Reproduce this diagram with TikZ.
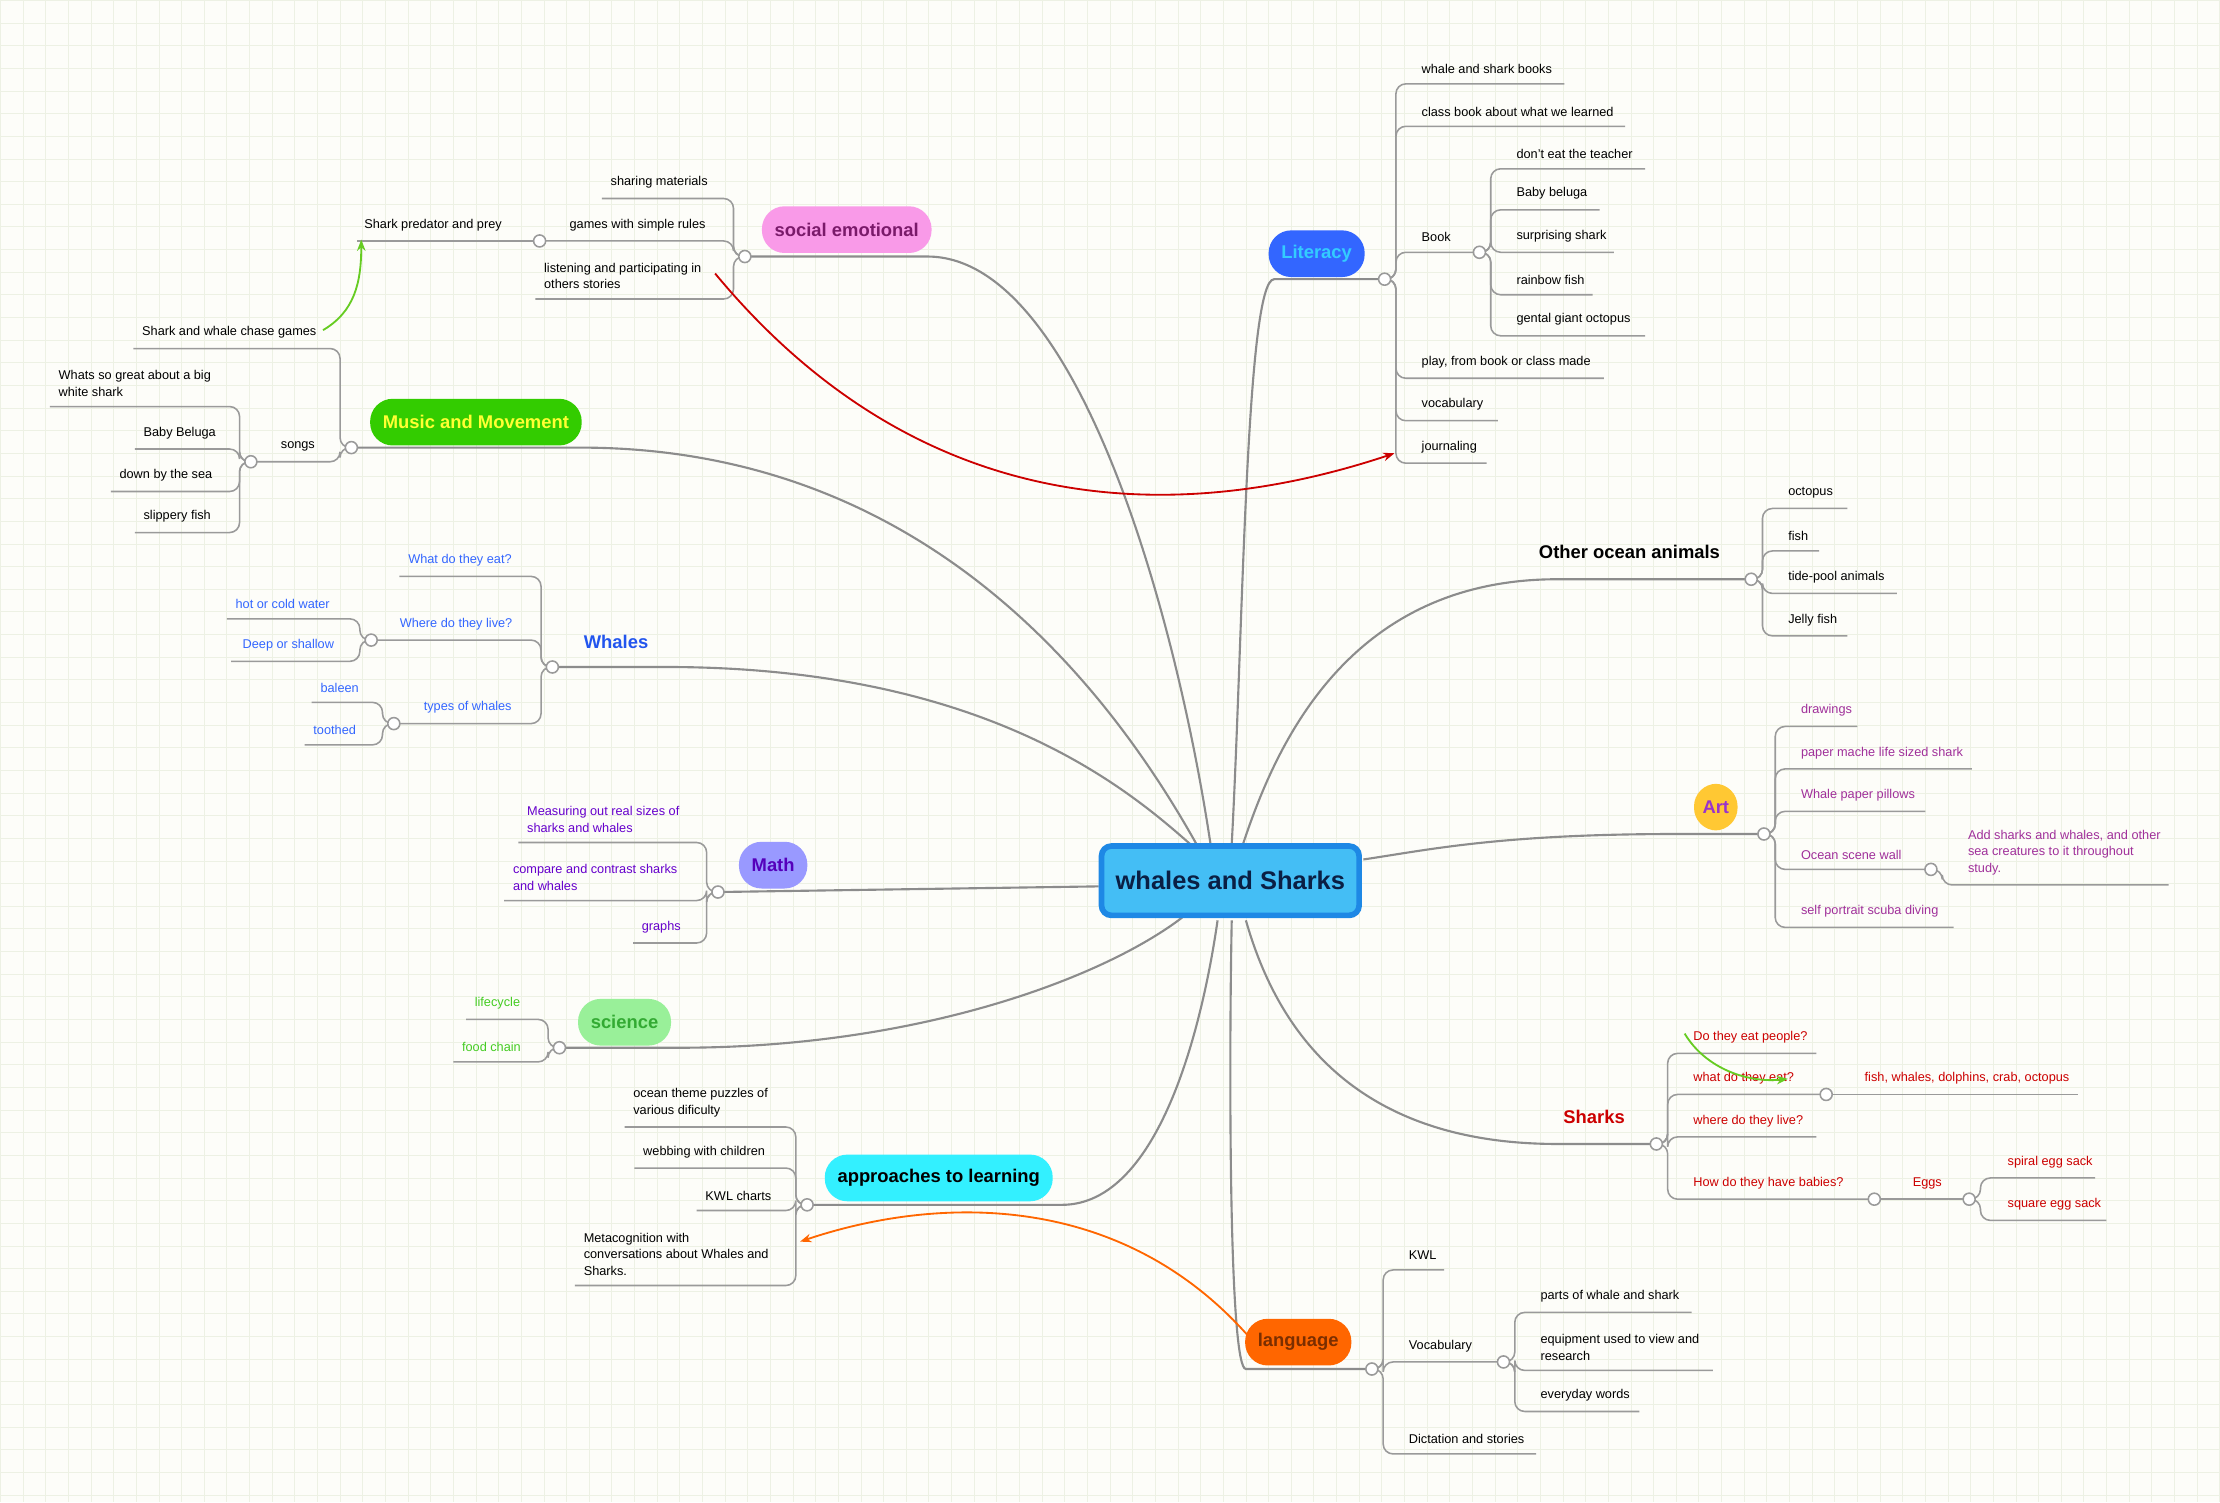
\documentclass[tikz,border=0pt]{standalone}
\usepackage{fontspec}
\setmainfont{Liberation Sans}
\usetikzlibrary{arrows.meta}
\definecolor{bg}{HTML}{FDFDF9}
\definecolor{gridc}{HTML}{EDF1E4}
\definecolor{mainl}{HTML}{8C8C8C}
\definecolor{subl}{HTML}{9A9A9A}
\definecolor{cblue}{HTML}{3366FF}
\definecolor{cpurp}{HTML}{6600CC}
\definecolor{cgreen}{HTML}{44CC22}
\definecolor{cart}{HTML}{A0309A}
\definecolor{cred}{HTML}{CC0000}
\newcommand\lfR[7]{%
  \draw[sub] (#2,#3) -- ({#2+8},#3) -- ({#2+8},#4) -- (#5,#4);
  \node[lt,anchor=south west] (#1) at (#6,#4) {#7};}
\newcommand\lfL[7]{%
  \draw[sub] (#2,#3) -- ({#2-8},#3) -- ({#2-8},#4) -- (#5,#4);
  \node[lt,anchor=south west] (#1) at (#6,#4) {#7};}
\newcommand\jn[3]{\node[junc] (#1) at (#2,#3) {};}
\begin{document}
\begin{tikzpicture}[x=1pt,y=-1pt,
  sub/.style={draw=subl,line width=1.1pt,rounded corners=7pt},
  mainc/.style={draw=mainl,line width=1.5pt},
  lt/.style={font=\fontsize{9}{11.5}\selectfont,inner sep=0pt,yshift=7pt,align=left},
  junc/.style={circle,draw=subl,fill=white,line width=1.1pt,inner sep=0pt,minimum size=8.5pt},
  pill/.style={rounded corners=16pt,minimum height=33pt,inner xsep=9pt,font=\fontsize{13}{15}\selectfont\bfseries},
  ttl/.style={font=\fontsize{13}{15}\selectfont\bfseries,inner sep=0pt},
  arr/.style={line width=1.3pt,-{Stealth[length=8pt,width=6pt]}}]
\fill[bg] (0,0) rectangle (1568,1061);
\foreach \i in {0,16,...,1568} \draw[gridc,line width=0.5pt] (\i,0) -- (\i,1061);
\foreach \i in {0,16,...,1061} \draw[gridc,line width=0.5pt] (0,\i) -- (1568,\i);
\useasboundingbox (0,0) rectangle (1568,1061);

% main connectors
\draw[mainc] (526,181) -- (655,181) .. controls (760,181) and (830,430) .. (855,596);
\draw[mainc] (978,197) -- (900,197) .. controls (880,197) and (878,450) .. (870,596);
\draw[mainc] (248,316) -- (410,316) .. controls (650,316) and (780,480) .. (845,596);
\draw[mainc] (390,471) -- (470,471) .. controls (700,471) and (800,560) .. (845,600);
\draw[mainc] (1237,409) -- (1100,409) .. controls (950,409) and (900,530) .. (878,596);
\draw[mainc] (1246,589) -- (1185,589) .. controls (1060,589) and (1010,600) .. (963,607);
\draw[mainc] (507,630) -- (776,626);
\draw[mainc] (395,740) -- (480,740) .. controls (650,740) and (780,690) .. (835,648);
\draw[mainc] (570,851) -- (750,851) .. controls (820,851) and (850,720) .. (860,650);
\draw[mainc] (969,967) -- (880,967) .. controls (868,967) and (868,750) .. (870,650);
\draw[mainc] (1170,808) -- (1100,808) .. controls (950,808) and (900,720) .. (880,650);

% social emotional
\lfL{se1}{526}{181}{140}{425}{431}{sharing materials}
\lfL{se2}{526}{181}{170}{381}{402}{games with simple rules}
\lfL{se3}{526}{181}{211}{378}{384}{listening and participating in\\others stories}
\draw[sub] (381,170) -- (252,170);
\node[lt,anchor=south west] (se21) at (257,170) {Shark predator and prey};
\jn{jse2}{381}{170}
\jn{jse}{526}{181}
\node[pill,fill={rgb,255:red,249;green,154;blue,232},text={rgb,255:red,122;green,26;blue,106}] (social) at (598,162) {social emotional};

% Music and Movement
\lfL{mm1}{248}{316}{246}{94}{100}{Shark and whale chase games}
\lfL{mm2}{248}{316}{326}{177}{198}{songs}
\lfL{so1}{177}{326}{287}{35}{41}{Whats so great about a big\\white shark}
\lfL{so2}{177}{326}{317}{95}{101}{Baby Beluga}
\lfL{so3}{177}{326}{347}{78}{84}{down by the sea}
\lfL{so4}{177}{326}{376}{95}{101}{slippery fish}
\jn{jso}{177}{326}
\jn{jmm}{248}{316}
\node[pill,fill={rgb,255:red,51;green,204;blue,0},text={rgb,255:red,255;green,255;blue,51}] (music) at (336,298) {Music and Movement};

% Whales
\begin{scope}[every node/.append style={text=cblue}]
\lfL{wh1}{390}{471}{407}{282}{288}{What do they eat?}
\lfL{wh2}{390}{471}{452}{262}{282}{Where do they live?}
\lfL{wh3}{390}{471}{511}{278}{299}{types of whales}
\lfL{wl1}{262}{452}{437}{160}{166}{hot or cold water}
\lfL{wl2}{262}{452}{467}{163}{171}{Deep or shallow}
\lfL{wt1}{278}{511}{496}{220}{226}{baleen}
\lfL{wt2}{278}{511}{526}{215}{221}{toothed}
\end{scope}
\jn{jwl}{262}{452}\jn{jwt}{278}{511}\jn{jwh}{390}{471}
\node[ttl,text={rgb,255:red,34;green,85;blue,238}] (whales) at (435,453) {Whales};

% Math
\begin{scope}[every node/.append style={text=cpurp}]
\lfL{ma1}{507}{630}{595}{366}{372}{Measuring out real sizes of\\sharks and whales}
\lfL{ma2}{507}{630}{636}{356}{362}{compare and contrast sharks\\and whales}
\lfL{ma3}{507}{630}{666}{447}{453}{graphs}
\end{scope}
\jn{jma}{507}{630}
\node[pill,fill={rgb,255:red,153;green,153;blue,255},text={rgb,255:red,85;green,0;blue,187}] (math) at (546,611) {Math};

% science
\begin{scope}[every node/.append style={text=cgreen}]
\lfL{sc1}{395}{740}{720}{329}{335}{lifecycle}
\lfL{sc2}{395}{740}{750}{320}{326}{food chain}
\end{scope}
\jn{jsc}{395}{740}
\node[pill,fill={rgb,255:red,153;green,240;blue,153},text={rgb,255:red,51;green,170;blue,51}] (science) at (441,722) {science};

% approaches
\lfL{ap1}{570}{851}{796}{441}{447}{ocean theme puzzles of\\various dificulty}
\lfL{ap2}{570}{851}{825}{448}{454}{webbing with children}
\lfL{ap3}{570}{851}{855}{492}{498}{KWL charts}
\lfL{ap4}{570}{851}{908}{406}{412}{Metacognition with\\conversations about Whales and\\Sharks.}
\jn{jap}{570}{851}
\node[pill,fill={rgb,255:red,51;green,240;blue,255}] (approach) at (663,832) {approaches to learning};

% language
\lfR{la1}{969}{967}{897}{1020}{995}{KWL}
\lfR{la2}{969}{967}{962}{1062}{995}{Vocabulary}
\lfR{la3}{969}{967}{1027}{1085}{995}{Dictation and stories}
\lfR{lv1}{1062}{962}{927}{1195}{1088}{parts of whale and shark}
\lfR{lv2}{1062}{962}{968}{1210}{1088}{equipment used to view and\\research}
\lfR{lv3}{1062}{962}{997}{1158}{1088}{everyday words}
\jn{jlv}{1062}{962}\jn{jla}{969}{967}
\node[pill,fill={rgb,255:red,255;green,102;blue,0},text={rgb,255:red,122;green,46;blue,0}] (language) at (917,948) {language};

% Sharks
\begin{scope}[every node/.append style={text=cred}]
\lfR{sh1}{1170}{808}{744}{1283}{1196}{Do they eat people?}
\lfR{sh2}{1170}{808}{773}{1290}{1196}{what do they eat?}
\lfR{sh3}{1170}{808}{803}{1283}{1196}{where do they live?}
\lfR{sh4}{1170}{808}{847}{1324}{1196}{How do they have babies?}
\draw[sub] (1290,773) -- (1468,773);
\node[lt,anchor=south west] (sh21) at (1317,773) {fish, whales, dolphins, crab, octopus};
\draw[sub] (1324,847) -- (1391,847);
\node[lt,anchor=south west] (sh41) at (1351,847) {Eggs};
\lfR{eg1}{1391}{847}{832}{1480}{1418}{spiral egg sack}
\lfR{eg2}{1391}{847}{862}{1488}{1418}{square egg sack}
\end{scope}
\jn{jsh2}{1290}{773}\jn{jsh4}{1324}{847}\jn{jeg}{1391}{847}\jn{jsh}{1170}{808}
\node[ttl,text=cred] (sharks) at (1126,789) {Sharks};

% Art
\begin{scope}[every node/.append style={text=cart}]
\lfR{ar1}{1246}{589}{513}{1312}{1272}{drawings}
\lfR{ar2}{1246}{589}{543}{1393}{1272}{paper mache life sized shark}
\lfR{ar3}{1246}{589}{573}{1360}{1272}{Whale paper pillows}
\lfR{ar4}{1246}{589}{614}{1364}{1272}{Ocean scene wall}
\lfR{ar5}{1246}{589}{655}{1380}{1272}{self portrait scuba diving}
\lfR{ar41}{1364}{614}{625}{1532}{1390}{Add sharks and whales, and other\\sea creatures to it throughout\\study.}
\end{scope}
\jn{jar4}{1364}{614}\jn{jar}{1246}{589}
\node[pill,fill={rgb,255:red,255;green,200;blue,51},text={rgb,255:red,153;green,51;blue,204},inner xsep=6pt] (art) at (1212,570) {Art};

% Other ocean animals
\lfR{oo1}{1237}{409}{359}{1305}{1263}{octopus}
\lfR{oo2}{1237}{409}{389}{1285}{1263}{fish}
\lfR{oo3}{1237}{409}{419}{1340}{1263}{tide-pool animals}
\lfR{oo4}{1237}{409}{449}{1305}{1263}{Jelly fish}
\jn{joo}{1237}{409}
\node[ttl] (ocean) at (1151,390) {Other ocean animals};

% Literacy
\lfR{li1}{978}{197}{59}{1105}{1004}{whale and shark books}
\lfR{li2}{978}{197}{89}{1148}{1004}{class book about what we learned}
\lfR{li3}{978}{197}{178}{1045}{1004}{Book}
\lfR{li4}{978}{197}{267}{1133}{1004}{play, from book or class made}
\lfR{li5}{978}{197}{297}{1058}{1004}{vocabulary}
\lfR{li6}{978}{197}{327}{1050}{1004}{journaling}
\lfR{bk1}{1045}{178}{119}{1162}{1071}{don't eat the teacher}
\lfR{bk2}{1045}{178}{148}{1130}{1071}{Baby beluga}
\lfR{bk3}{1045}{178}{178}{1140}{1071}{surprising shark}
\lfR{bk4}{1045}{178}{208}{1125}{1071}{rainbow fish}
\lfR{bk5}{1045}{178}{237}{1162}{1071}{gental giant octopus}
\jn{jbk}{1045}{178}\jn{jli}{978}{197}
\node[pill,fill={rgb,255:red,51;green,102;blue,255},text={rgb,255:red,51;green,204;blue,255}] (literacy) at (930,179) {Literacy};

% center
\node[draw={rgb,255:red,30;green,136;blue,229},line width=4pt,fill={rgb,255:red,68;green,190;blue,245},rounded corners=7pt,minimum width=182pt,minimum height=49pt,font=\fontsize{18}{20}\selectfont\bfseries,text={rgb,255:red,10;green,31;blue,68}] (center) at (869,622) {whales and Sharks};

% relationship arrows
\coordinate (ra1) at (505,193); \coordinate (ra2) at (985,320);
\draw[arr,draw={rgb,255:red,204;green,0;blue,0}] (ra1) .. controls (660,380) and (850,365) .. (ra2);
\coordinate (ga1) at (228,233); \coordinate (ga2) at (255,169);
\draw[arr,draw={rgb,255:red,102;green,204;blue,34}] (ga1) .. controls (250,220) and (255,200) .. (ga2);
\coordinate (gb1) at (1190,730); \coordinate (gb2) at (1263,762);
\draw[arr,draw={rgb,255:red,102;green,204;blue,34}] (gb1) .. controls (1205,755) and (1235,765) .. (gb2);
\coordinate (oa1) at (882,944); \coordinate (oa2) at (565,877);
\draw[arr,draw={rgb,255:red,255;green,102;blue,0}] (oa1) .. controls (790,840) and (660,845) .. (oa2);
\end{tikzpicture}
\end{document}
